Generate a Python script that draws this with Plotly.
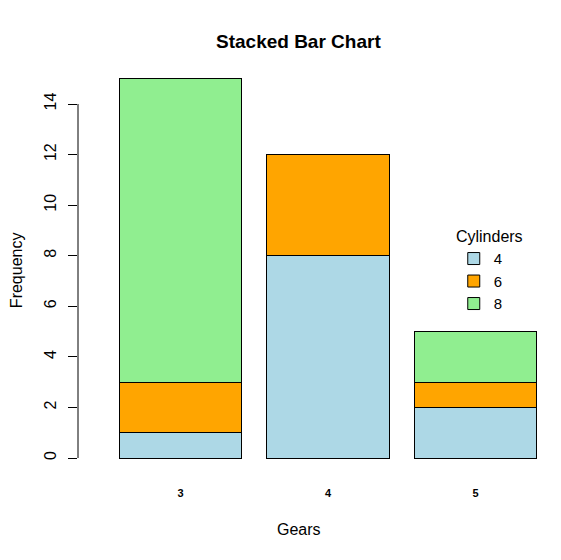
import plotly.graph_objects as go

# mtcars counts by gear (columns) and cylinders (stacked rows)
gears = ["3", "4", "5"]
cylinders = ["4", "6", "8"]
counts_cyl4 = [1, 8, 2]
counts_cyl6 = [2, 4, 1]
counts_cyl8 = [12, 0, 2]
y_ticks = [0, 2, 4, 6, 8, 10, 12, 14]

FONT = "Liberation Sans, Arial, sans-serif"
COLORS = ["#ADD8E6", "#FFA500", "#90EE90"]

fig = go.Figure()
for name, vals, col in zip(cylinders, [counts_cyl4, counts_cyl6, counts_cyl8], COLORS):
    fig.add_trace(
        go.Bar(
            x=gears,
            y=vals,
            name=name,
            marker=dict(color=col, line=dict(color="black", width=1)),
        )
    )

# page body has an 8px margin, so the margins are shifted by that amount
fig.update_layout(
    barmode="stack",
    bargap=1 - 1 / 1.2,
    width=561,
    height=560,
    margin=dict(l=70, r=15, t=52, b=95),
    plot_bgcolor="white",
    paper_bgcolor="white",
    font=dict(family=FONT, color="black", size=16),
    legend=dict(
        title=dict(text="Cylinders", side="top center", font=dict(size=16)),
        font=dict(size=15),
        traceorder="normal",
        x=0.864,
        xanchor="center",
        y=0.609,
        yanchor="top",
        bgcolor="rgba(0,0,0,0)",
    ),
    annotations=[
        dict(text="<b>Stacked Bar Chart</b>", x=0.463, y=1.046, xref="paper", yref="paper",
             showarrow=False, font=dict(size=19), xanchor="center", yanchor="middle"),
        dict(text="Gears", x=0.464, y=-0.138, xref="paper", yref="paper",
             showarrow=False, font=dict(size=16), xanchor="center", yanchor="middle"),
        dict(text="Frequency", x=-0.13, y=0.4915, xref="paper", yref="paper", textangle=-90,
             showarrow=False, font=dict(size=16), xanchor="center", yanchor="middle"),
    ],
    shapes=[
        # R style axis line: spans only the tick range
        dict(type="line", xref="paper", yref="y", x0=0, x1=0, y0=0, y1=14,
             line=dict(color="black", width=1)),
    ],
)

fig.update_xaxes(
    range=[-0.695, 2.532],
    showgrid=False,
    showline=False,
    zeroline=False,
    ticks="",
    tickfont=dict(size=11, family=FONT),
    tickprefix="<b>",
    ticksuffix="</b>",
    ticklabelstandoff=12,
)
fig.update_yaxes(
    range=[-0.593, 15.74],
    tickvals=y_ticks,
    showgrid=False,
    showline=False,
    zeroline=False,
    ticks="outside",
    ticklen=9,
    tickwidth=1,
    tickcolor="black",
    tickangle=-90,
    tickfont=dict(size=16),
    ticklabelstandoff=6,
)

fig.write_html("out.html")
